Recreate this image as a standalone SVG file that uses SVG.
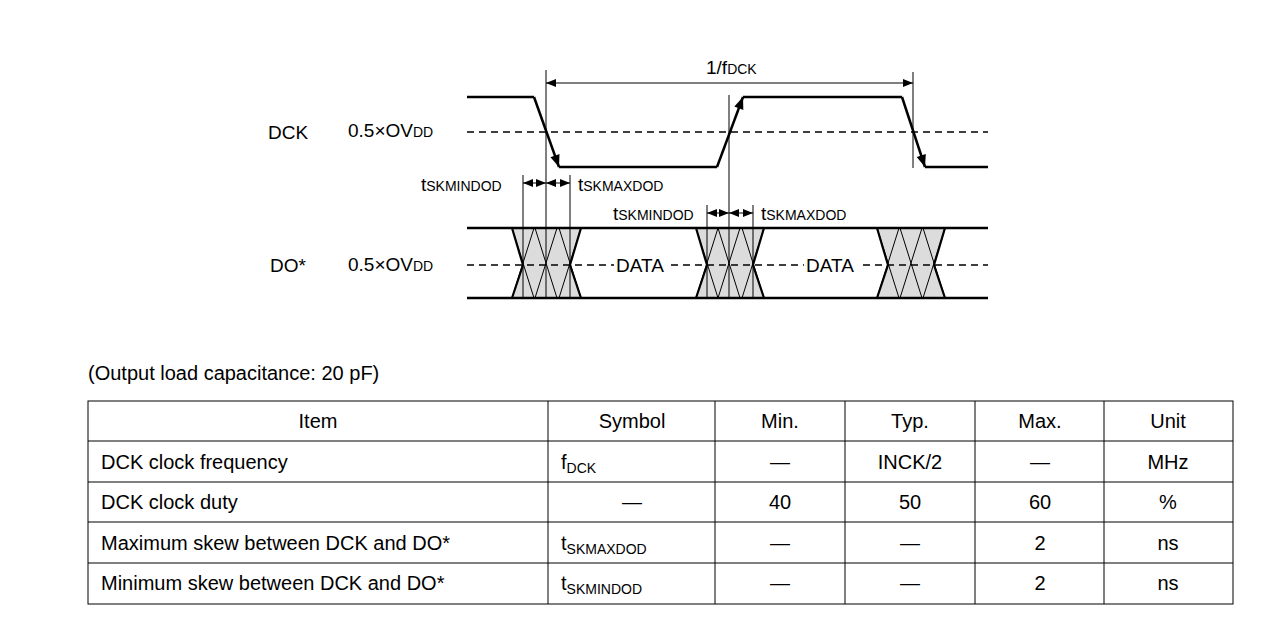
<svg xmlns="http://www.w3.org/2000/svg" width="1283" height="633" viewBox="0 0 1283 633">
<style>
text{font-family:"Liberation Sans",Arial,sans-serif;fill:#000}
.l{font-size:19px}.s{font-size:14px}.t{font-size:20px}
.w{stroke:#000;stroke-width:2.5;fill:none}
.d{stroke:#000;stroke-width:1.3;stroke-dasharray:7,5;fill:none}
.v{stroke:#000;stroke-width:1;fill:none}
.x{stroke:#000;stroke-width:1;fill:none}
.o{stroke:#000;stroke-width:2.2;fill:none}
.g{fill:#dcdcdc;stroke:none}
.tb{stroke:#000;stroke-width:1;fill:none}
</style>
<defs>
<marker id="ah" viewBox="0 0 10 10" refX="10" refY="5" markerWidth="10" markerHeight="10" markerUnits="userSpaceOnUse" orient="auto-start-reverse"><path d="M0,1 L10,5 L0,9 Z" fill="#000"/></marker>
<marker id="ab" viewBox="0 0 10 10" refX="10" refY="5" markerWidth="16" markerHeight="12" markerUnits="userSpaceOnUse" orient="auto"><path d="M0,1 L10,5 L0,9 Z" fill="#000"/></marker>
</defs>
<g id="labels">
<text class="l" x="268" y="139">DCK</text>
<text class="l" x="348" y="137">0.5×OV<tspan class="s">DD</tspan></text>
<text class="l" x="270" y="272">DO*</text>
<text class="l" x="348" y="271">0.5×OV<tspan class="s">DD</tspan></text>
<text class="l" x="706" y="74">1/f<tspan class="s">DCK</tspan></text>
<text class="l" x="421" y="191">t<tspan class="s">SKMINDOD</tspan></text>
<text class="l" x="578" y="191">t<tspan class="s">SKMAXDOD</tspan></text>
<text class="l" x="613" y="220">t<tspan class="s">SKMINDOD</tspan></text>
<text class="l" x="761" y="220">t<tspan class="s">SKMAXDOD</tspan></text>
</g>
<g id="dck">
<line class="d" x1="467" y1="132" x2="988" y2="132"/>
<path class="w" d="M467,97 H534 M559,167 H717 M743,97 H902 M925,167 H988"/>
<line class="w" x1="534" y1="97" x2="559" y2="167" marker-end="url(#ab)"/>
<line class="w" x1="717" y1="167" x2="743" y2="97" marker-end="url(#ab)"/>
<line class="w" x1="902" y1="97" x2="925" y2="167" marker-end="url(#ab)"/>
</g>
<g id="do">
<polygon class="g" points="512,228 581,228 570,265 581,298 512,298 523,265"/>
<polygon class="g" points="696,228 764,228 753,265 764,298 696,298 707,265"/>
<polygon class="g" points="877,228 945,228 934,265 945,298 877,298 888,265"/>
<line class="d" x1="467" y1="265" x2="988" y2="265"/>
<rect x="614" y="252" width="56" height="24" fill="#fff"/>
<rect x="804" y="252" width="56" height="24" fill="#fff"/>
<text class="l" x="616" y="272">DATA</text>
<text class="l" x="806" y="272">DATA</text>
<path class="x" d="M512,228 L534,298 M534,228 L512,298 M535,228 L557,298 M557,228 L535,298 M559,228 L581,298 M581,228 L559,298"/>
<path class="x" d="M696,228 L718,298 M718,228 L696,298 M718,228 L740,298 M740,228 L718,298 M742,228 L764,298 M764,228 L742,298"/>
<path class="x" d="M877,228 L899,298 M899,228 L877,298 M900,228 L922,298 M922,228 L900,298 M923,228 L945,298 M945,228 L923,298"/>
<path class="o" d="M512,228 L523,265 L512,298 M581,228 L570,265 L581,298 M696,228 L707,265 L696,298 M764,228 L753,265 L764,298 M877,228 L888,265 L877,298 M945,228 L934,265 L945,298"/>
<path class="w" d="M467,228 H988 M467,298 H988" stroke-width="3"/>
</g>
<g id="connectors">
<path class="v" d="M546,70 V298 M523,175 V298 M570,175 V298 M707,205 V298 M729,95 V298 M753,205 V298 M913,72 V168"/>
<line class="v" x1="546" y1="83" x2="913" y2="83" marker-start="url(#ah)" marker-end="url(#ah)"/>
<line class="v" x1="523" y1="183" x2="546" y2="183" marker-start="url(#ah)" marker-end="url(#ah)"/>
<line class="v" x1="546" y1="183" x2="570" y2="183" marker-start="url(#ah)" marker-end="url(#ah)"/>
<line class="v" x1="707" y1="213" x2="729" y2="213" marker-start="url(#ah)" marker-end="url(#ah)"/>
<line class="v" x1="729" y1="213" x2="753" y2="213" marker-start="url(#ah)" marker-end="url(#ah)"/>
</g>
<g id="table">
<text class="t" x="88" y="380">(Output load capacitance: 20 pF)</text>
<rect class="tb" x="88" y="401" width="1145" height="203"/>
<path class="tb" d="M88,441 H1233 M88,482 H1233 M88,522 H1233 M88,563 H1233 M548,401 V604 M715,401 V604 M845,401 V604 M975,401 V604 M1104,401 V604"/>
<g text-anchor="middle" class="t">
<text x="318" y="428">Item</text><text x="632" y="428">Symbol</text><text x="780" y="428">Min.</text><text x="910" y="428">Typ.</text><text x="1040" y="428">Max.</text><text x="1168" y="428">Unit</text>
<text x="780" y="469">—</text><text x="910" y="469">INCK/2</text><text x="1040" y="469">—</text><text x="1168" y="469">MHz</text>
<text x="632" y="509">—</text><text x="780" y="509">40</text><text x="910" y="509">50</text><text x="1040" y="509">60</text><text x="1168" y="509">%</text>
<text x="780" y="550">—</text><text x="910" y="550">—</text><text x="1040" y="550">2</text><text x="1168" y="550">ns</text>
<text x="780" y="590">—</text><text x="910" y="590">—</text><text x="1040" y="590">2</text><text x="1168" y="590">ns</text>
</g>
<text class="t" x="101" y="469">DCK clock frequency</text>
<text class="t" x="101" y="509">DCK clock duty</text>
<text class="t" x="101" y="550">Maximum skew between DCK and DO*</text>
<text class="t" x="101" y="590">Minimum skew between DCK and DO*</text>
<text class="t" x="561" y="469">f<tspan class="s" dy="4">DCK</tspan></text>
<text class="t" x="561" y="550">t<tspan class="s" dy="4">SKMAXDOD</tspan></text>
<text class="t" x="561" y="590">t<tspan class="s" dy="4">SKMINDOD</tspan></text>
</g>
</svg>
